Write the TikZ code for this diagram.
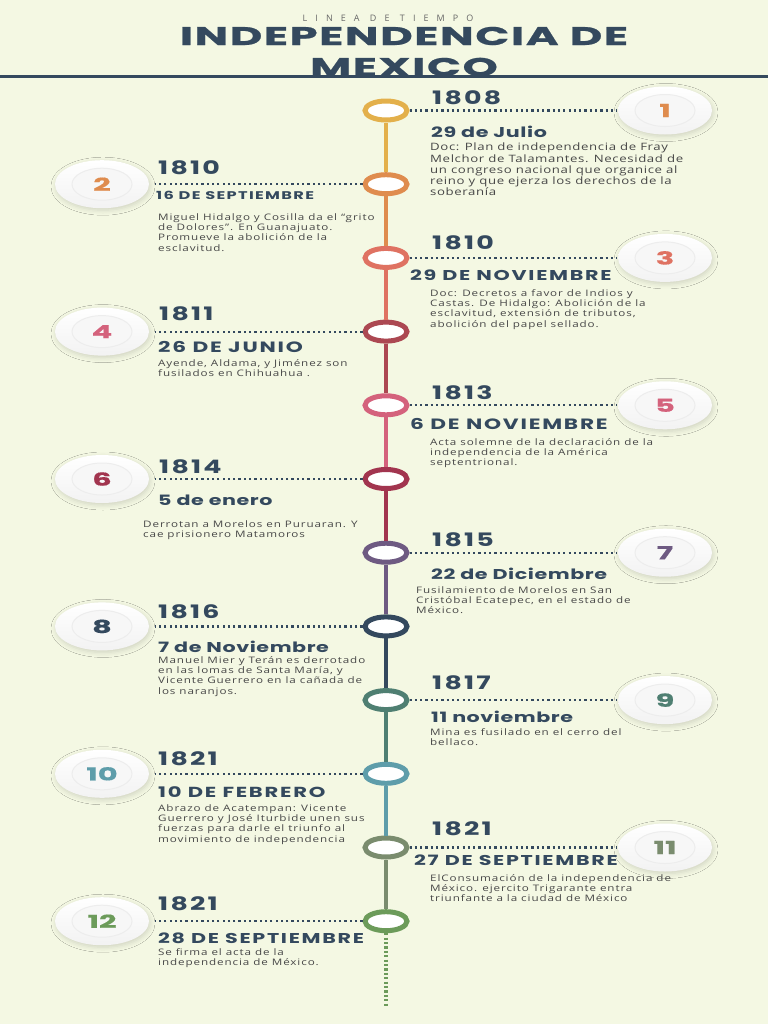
\documentclass[tikz,border=0pt]{standalone}
\usepackage{fontspec}
\setmainfont{Open Sans}
\newfontfamily\headfont{Poppins}[FakeStretch=1.45,LetterSpace=4]
\newfontfamily\numfont{Poppins}[FakeStretch=1.7,FakeBold=0.6]
\newfontfamily\titlefont{Poppins}[FakeStretch=1.75,LetterSpace=6,FakeBold=0.8]
\newfontfamily\bodyfont{Open Sans}[FakeStretch=1.3,LetterSpace=10]
\usetikzlibrary{shapes.geometric,shadows.blur}

\definecolor{fondo}{HTML}{F4F8E3}
\definecolor{tinta}{HTML}{34495E}
\definecolor{gris}{HTML}{474747}
\definecolor{oro}{HTML}{E3B04B}
\definecolor{naranja}{HTML}{DF8C4E}
\definecolor{coral}{HTML}{DF7262}
\definecolor{vino}{HTML}{AC4852}
\definecolor{rosa}{HTML}{D4627C}
\definecolor{carmesi}{HTML}{A2354F}
\definecolor{morado}{HTML}{6E5A82}
\definecolor{pizarra}{HTML}{34495E}
\definecolor{verdemar}{HTML}{4F7F72}
\definecolor{turquesa}{HTML}{5E9DAA}
\definecolor{olivo}{HTML}{7A8C6E}
\definecolor{verde}{HTML}{6C9B5A}

\begin{document}
\begin{tikzpicture}[x=1bp,y=-1bp,
	aro/.style={ellipse,draw=#1,fill=white,line width=5bp,minimum width=42bp,minimum height=19bp,inner sep=0},
	tramo/.style={draw=#1,line width=4bp},
	plato/.style={ellipse,minimum width=94bp,minimum height=48bp,inner sep=0,top color=white,bottom color=black!5,
		blur shadow={shadow xshift=1bp,shadow yshift=-2bp,shadow blur radius=5bp,shadow opacity=15}},
	disco/.style={ellipse,minimum width=60bp,minimum height=32bp,inner sep=0,fill=black!3,draw=black!7,line width=1bp,
		text=#1,font=\numfont\bfseries\fontsize{18}{19}\selectfont},
	puntos/.style={draw=tinta,line width=2.2bp,dash pattern=on 2.2bp off 3.1bp},
	anio/.style={anchor=west,inner sep=0,text=tinta,font=\headfont\bfseries\fontsize{18.6}{20}\selectfont\addfontfeature{LetterSpace=12}},
	fecha/.style={anchor=west,inner sep=0,text=tinta,font=\headfont\bfseries\fontsize{#1}{16}\selectfont},
	fecha/.default=14.3,
	fechamay/.style={anchor=west,inner sep=0,text=tinta,font=\headfont\bfseries\fontsize{#1}{16}\selectfont\addfontfeature{LetterSpace=12}},
	fechamay/.default=14.3,
	texto/.style={anchor=north west,inner sep=0,align=left,text=gris,font=\bodyfont\fontsize{9}{10.4}\selectfont}]

	\fill[fondo] (0,0) rectangle (768,1024);
	\useasboundingbox (0,0) rectangle (768,1024);

	% encabezado
	\node[text=black!60,font=\fontsize{9}{10}\selectfont\addfontfeature{LetterSpace=90}] (sub) at (388,18) {LINEA DE TIEMPO};
	\node[text=tinta,font=\titlefont\bfseries\fontsize{25.7}{28}\selectfont] (tit1) at (404,36) {INDEPENDENCIA DE};
	\node[text=tinta,font=\titlefont\bfseries\fontsize{25.7}{28}\selectfont] (tit2) at (404,67) {MEXICO};
	\draw[tinta,line width=2.5bp] (0,76.5) -- (768,76.5);

	% linea central
	\node[aro=oro] (r1) at (386,110.5) {};
	\node[aro=naranja] (r2) at (386,184.2) {};
	\node[aro=coral] (r3) at (386,257.9) {};
	\node[aro=vino] (r4) at (386,331.6) {};
	\node[aro=rosa] (r5) at (386,405.3) {};
	\node[aro=carmesi] (r6) at (386,479) {};
	\node[aro=morado] (r7) at (386,552.7) {};
	\node[aro=pizarra] (r8) at (386,626.4) {};
	\node[aro=verdemar] (r9) at (386,700.1) {};
	\node[aro=turquesa] (r10) at (386,773.8) {};
	\node[aro=olivo] (r11) at (386,847.5) {};
	\node[aro=verde] (r12) at (386,921.2) {};
	\coordinate (fin) at (386,1006);
	\draw[tramo=oro] (r1) -- (r2);
	\draw[tramo=naranja] (r2) -- (r3);
	\draw[tramo=coral] (r3) -- (r4);
	\draw[tramo=vino] (r4) -- (r5);
	\draw[tramo=rosa] (r5) -- (r6);
	\draw[tramo=carmesi] (r6) -- (r7);
	\draw[tramo=morado] (r7) -- (r8);
	\draw[tramo=pizarra] (r8) -- (r9);
	\draw[tramo=verdemar] (r9) -- (r10);
	\draw[tramo=turquesa] (r10) -- (r11);
	\draw[tramo=olivo] (r11) -- (r12);
	\draw[verde,line width=4bp,dash pattern=on 2.2bp off 2.2bp] (r12) -- (fin);

	% platos numerados
	\node[plato] (p1) at (665,110.5) {};
	\node[disco=naranja] (n1) at (p1) {1};
	\node[plato] (p2) at (102,184.2) {};
	\node[disco=naranja] (n2) at (p2) {2};
	\node[plato] (p3) at (665,257.9) {};
	\node[disco=coral] (n3) at (p3) {3};
	\node[plato] (p4) at (102,331.6) {};
	\node[disco=rosa] (n4) at (p4) {4};
	\node[plato] (p5) at (665,405.3) {};
	\node[disco=rosa] (n5) at (p5) {5};
	\node[plato] (p6) at (102,479) {};
	\node[disco=carmesi] (n6) at (p6) {6};
	\node[plato] (p7) at (665,552.7) {};
	\node[disco=morado] (n7) at (p7) {7};
	\node[plato] (p8) at (102,626.4) {};
	\node[disco=pizarra] (n8) at (p8) {8};
	\node[plato] (p9) at (665,700.1) {};
	\node[disco=verdemar] (n9) at (p9) {9};
	\node[plato] (p10) at (102,773.8) {};
	\node[disco=turquesa] (n10) at (p10) {10};
	\node[plato] (p11) at (665,847.5) {};
	\node[disco=olivo] (n11) at (p11) {11};
	\node[plato] (p12) at (102,921.2) {};
	\node[disco=verde] (n12) at (p12) {12};

	% punteado hacia los platos
	\draw[puntos,shorten >=1bp] (r1) -- (p1);
	\draw[puntos,shorten >=6bp] (r2) -- (p2);
	\draw[puntos,shorten >=1bp] (r3) -- (p3);
	\draw[puntos,shorten >=6bp] (r4) -- (p4);
	\draw[puntos,shorten >=1bp] (r5) -- (p5);
	\draw[puntos,shorten >=6bp] (r6) -- (p6);
	\draw[puntos,shorten >=1bp] (r7) -- (p7);
	\draw[puntos,shorten >=6bp] (r8) -- (p8);
	\draw[puntos,shorten >=1bp] (r9) -- (p9);
	\draw[puntos,shorten >=6bp] (r10) -- (p10);
	\draw[puntos,shorten >=1bp] (r11) -- (p11);
	\draw[puntos,shorten >=6bp] (r12) -- (p12);

	% eventos
	\node[anio] (a1) at (432,97.5) {1808};
	\node[fecha] (f1) at (431,131.5) {29 de Julio};
	\node[texto,font=\bodyfont\fontsize{10.2}{11.2}\selectfont\addfontfeature{LetterSpace=6}] (t1) at (430,143) {Doc: Plan de independencia de Fray\\Melchor de Talamantes. Necesidad de\\un congreso nacional que organice al\\reino y que ejerza los derechos de la\\soberanía};

	\node[anio] (a2) at (158,168) {1810};
	\node[fechamay=11.2] (f2) at (156,195.5) {16 DE SEPTIEMBRE};
	\node[texto] (t2) at (158,213) {Miguel Hidalgo y Cosilla da el “grito\\de Dolores”. En Guanajuato.\\Promueve la abolición de la\\esclavitud.};

	\node[anio] (a3) at (432,243) {1810};
	\node[fechamay] (f3) at (410,275.5) {29 DE NOVIEMBRE};
	\node[texto] (t3) at (430,289) {Doc: Decretos a favor de Indios y\\Castas. De Hidalgo: Abolición de la\\esclavitud, extensión de tributos,\\abolición del papel sellado.};

	\node[anio] (a4) at (159,313.5) {1811};
	\node[fechamay=15] (f4) at (158,347) {26 DE JUNIO};
	\node[texto] (t4) at (158,359) {Ayende, Aldama, y Jiménez son\\fusilados en Chihuahua .};

	\node[anio] (a5) at (432,393) {1813};
	\node[fechamay=15] (f5) at (410,423.5) {6 DE NOVIEMBRE};
	\node[texto] (t5) at (430,438) {Acta solemne de la declaración de la\\independencia de la América\\septentrional.};

	\node[anio] (a6) at (159,466.5) {1814};
	\node[fecha] (f6) at (158,500) {5 de enero};
	\node[texto] (t6) at (143,520) {Derrotan a Morelos en Puruaran. Y\\cae prisionero Matamoros};

	\node[anio] (a7) at (432,540) {1815};
	\node[fecha] (f7) at (431,574.3) {22 de Diciembre};
	\node[texto] (t7) at (416,586) {Fusilamiento de Morelos en San\\Cristóbal Ecatepec, en el estado de\\México.};

	\node[anio] (a8) at (158,612) {1816};
	\node[fecha] (f8) at (158,646.5) {7 de Noviembre};
	\node[texto] (t8) at (158,656) {Manuel Mier y Terán es derrotado\\en las lomas de Santa María, y\\Vicente Guerrero en la cañada de\\los naranjos.};

	\node[anio] (a9) at (432,683) {1817};
	\node[fecha] (f9) at (431,716.5) {11 noviembre};
	\node[texto] (t9) at (430,728) {Mina es fusilado en el cerro del\\bellaco.};

	\node[anio] (a10) at (158,759) {1821};
	\node[fechamay=14.6] (f10) at (158,792.5) {10 DE FEBRERO};
	\node[texto] (t10) at (158,804) {Abrazo de Acatempan: Vicente\\Guerrero y José Iturbide unen sus\\fuerzas para darle el triunfo al\\movimiento de independencia};

	\node[anio] (a11) at (432,828.5) {1821};
	\node[fechamay] (f11) at (414,860.5) {27 DE SEPTIEMBRE};
	\node[texto] (t11) at (430,874) {ElConsumación de la independencia de\\México. ejercito Trigarante entra\\triunfante a la ciudad de México};

	\node[anio] (a12) at (158,904) {1821};
	\node[fechamay] (f12) at (158,938) {28 DE SEPTIEMBRE};
	\node[texto] (t12) at (158,948) {Se firma el acta de la\\independencia de México.};
\end{tikzpicture}
\end{document}
